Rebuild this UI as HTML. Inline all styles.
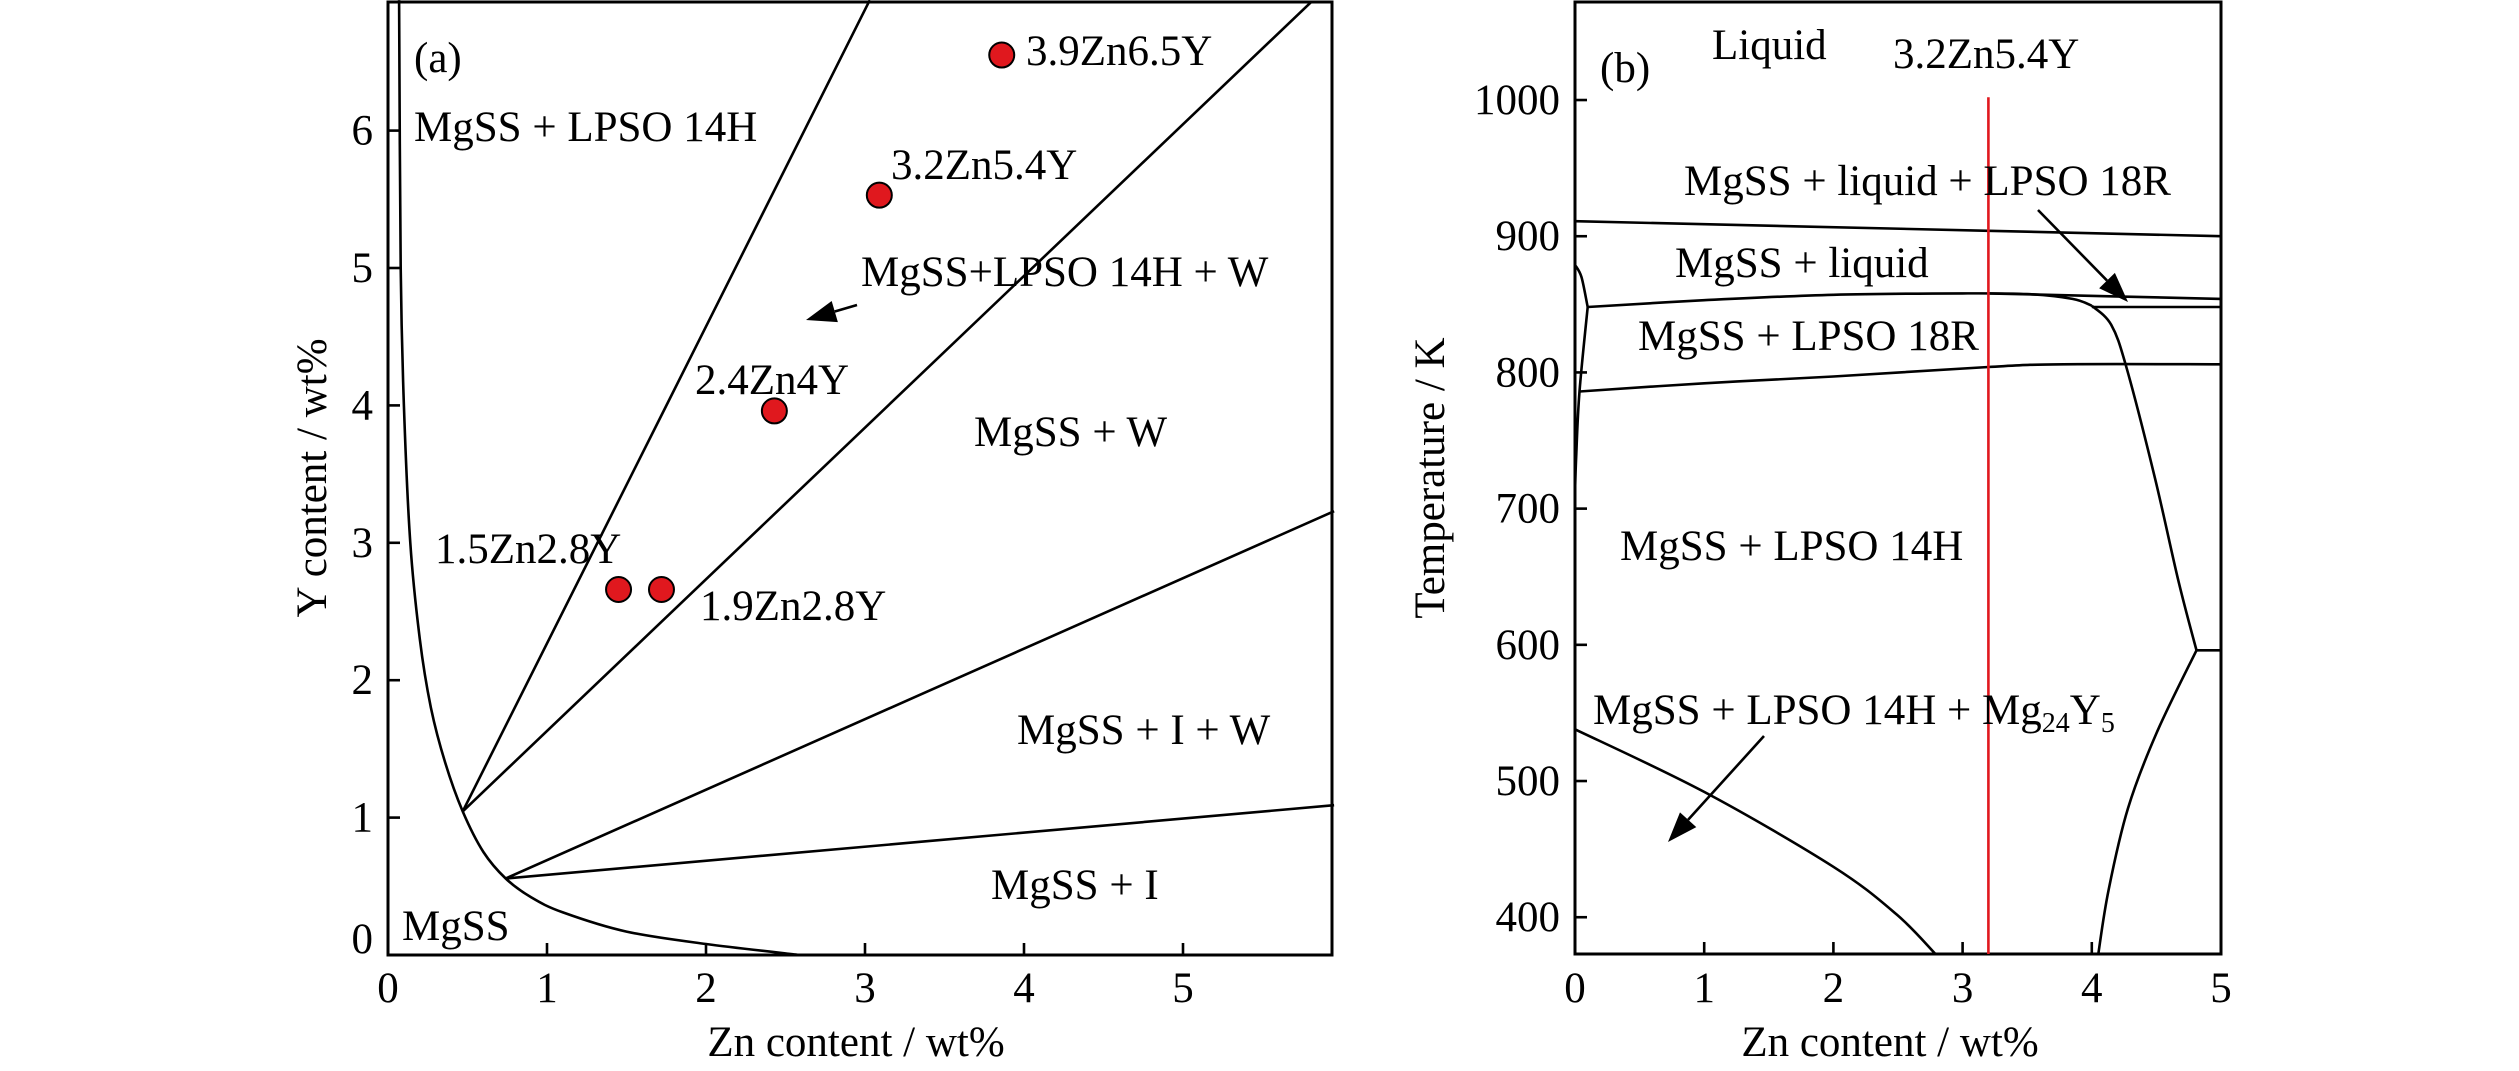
<!DOCTYPE html>
<html><head><meta charset="utf-8"><style>
html,body{margin:0;padding:0;background:#fff}
svg{display:block}
text{font-family:"Liberation Serif","Times New Roman",serif;fill:#000}
</style></head><body>
<svg id="chart" width="2519" height="1071" viewBox="0 0 2519 1071" xmlns="http://www.w3.org/2000/svg">
<g id="pa"></g>
<g id="pb"></g>
</svg>
<script>
// Panel (a) data
const aXTicks=[0,1,2,3,4,5];
const aYTicks=[0,1,2,3,4,5,6];
const aSolvusX=[0.07,0.08,0.1,0.14,0.2,0.27,0.36,0.47,0.6,0.74,0.9,1.1,1.5,2.0,2.59];
const aSolvusY=[6.95,5,4,3,2.3,1.8,1.4,1.045,0.75,0.557,0.42,0.31,0.17,0.08,0];
const aTieStartX=[0.47,0.47,0.74,0.74];
const aTieStartY=[1.045,1.045,0.557,0.557];
const aTieEndX=[3.03,5.81,5.95,5.95];
const aTieEndY=[6.95,6.94,3.23,1.09];
const aAlloyNames=["3.9Zn6.5Y","3.2Zn5.4Y","2.4Zn4Y","1.5Zn2.8Y","1.9Zn2.8Y"];
const aAlloyZn=[3.86,3.09,2.43,1.45,1.72];
const aAlloyY=[6.55,5.53,3.96,2.66,2.66];
// Panel (b) data
const bXTicks=[0,1,2,3,4,5];
const bYTicks=[400,500,600,700,800,900,1000];
const bLiqX=[0,3.2,5]; const bLiqT=[911,904,900];
const bSolX=[0.098,1,2,3,3.5,3.85,4.0]; const bSolT=[848,853,857,858,857.5,854,849];
const bUpX=[3.2,5]; const bUpT=[858,854];
const bH848X=[4.0,5]; const bH848T=[848,848];
const b800X=[0.035,1,2,3.2,3.78,5]; const b800T=[786,792,797,804,806,806];
const bLeftAX=[0,0.05,0.098]; const bLeftAT=[879,870,848];
const bLeftBX=[0.098,0.035,0.01,0]; const bLeftBT=[848,786,740,712];
const bRightX=[4.0,4.15,4.27,4.49,4.67,4.81]; const bRightT=[849,835,803,722,647,596];
const bH596X=[4.81,5]; const bH596T=[596,596];
const bLowRX=[4.81,4.5,4.28,4.13,4.05]; const bLowRT=[596,535,480,420,373];
const bLowLX=[0,1,2,2.49,2.79]; const bLowLT=[538,492,437,402,373];
const bAlloyZn=[3.2]; const bAlloyTop=[1002];

const NS="http://www.w3.org/2000/svg";
function mk(parent,tag,attrs,txt){const e=document.createElementNS(NS,tag);for(const k in attrs)e.setAttribute(k,attrs[k]);if(txt!==undefined)e.textContent=txt;parent.appendChild(e);return e;}
const F=43;
const ax=v=>388+v*159, ay=v=>955-v*137.4;
const bx=v=>1575+v*129.2, by=v=>954-(v-373)*1.362;
const pa=document.getElementById('pa'), pb=document.getElementById('pb');

function poly(g,xs,ys,fx,fy,name,col,w){
  const P=xs.map((x,i)=>[fx(x),fy(ys[i])]);
  let d='M'+P[0][0].toFixed(1)+','+P[0][1].toFixed(1);
  for(let i=0;i<P.length-1;i++){
    const p0=P[Math.max(0,i-1)],p1=P[i],p2=P[i+1],p3=P[Math.min(P.length-1,i+2)];
    const c1x=p1[0]+(p2[0]-p0[0])/6,c1y=p1[1]+(p2[1]-p0[1])/6;
    const c2x=p2[0]-(p3[0]-p1[0])/6,c2y=p2[1]-(p3[1]-p1[1])/6;
    d+=` C${c1x.toFixed(1)},${c1y.toFixed(1)} ${c2x.toFixed(1)},${c2y.toFixed(1)} ${p2[0].toFixed(1)},${p2[1].toFixed(1)}`;
  }
  const e=mk(g,'path',{d:d,fill:'none',stroke:col||'#000','stroke-width':w||2.6,'stroke-linejoin':'round'});
  
  
  return e;
}
function txt(g,x,y,s,name,extra){
  const e=mk(g,'text',Object.assign({x:x,y:y,'font-size':F},extra||{}),s);
  
  
  return e;
}
function arrow(g,x1,y1,x2,y2,name){
  const gg=mk(g,'g',{});
  
  
  const dx=x2-x1,dy=y2-y1,L=Math.hypot(dx,dy),ux=dx/L,uy=dy/L,h=30,wd=11;
  const bxp=x2-ux*h,byp=y2-uy*h;
  mk(gg,'line',{x1:x1,y1:y1,x2:bxp,y2:byp,stroke:'#000','stroke-width':2.6});
  mk(gg,'polygon',{points:`${x2},${y2} ${bxp-uy*wd},${byp+ux*wd} ${bxp+uy*wd},${byp-ux*wd}`,fill:'#000'});
}

// ---- Panel a ----
const fa=mk(pa,'rect',{x:388,y:2,width:944,height:953,fill:'none',stroke:'#000','stroke-width':3});

aXTicks.forEach(v=>{
  const l=mk(pa,'line',{x1:ax(v),y1:955,x2:ax(v),y2:943,stroke:'#000','stroke-width':2.6});
  
  txt(pa,ax(v),1002,String(v),'x-tick-label-a',{'text-anchor':'middle'});
});
aYTicks.forEach(v=>{
  const l=mk(pa,'line',{x1:388,y1:ay(v),x2:400,y2:ay(v),stroke:'#000','stroke-width':2.6});
  
  txt(pa,373,ay(v)+(v===0?-2:14),String(v),'y-tick-label-a',{'text-anchor':'end'});
});
txt(pa,856,1056,'Zn content / wt%','x-axis-title-a',{'text-anchor':'middle'});
txt(pa,0,0,'Y content / wt%','y-axis-title-a',{'text-anchor':'middle',transform:'translate(326,478) rotate(-90)'});
poly(pa,aSolvusX,aSolvusY,ax,ay,'solvus-curve');
aTieStartX.forEach((x,i)=>poly(pa,[x,aTieEndX[i]],[aTieStartY[i],aTieEndY[i]],ax,ay,'tie-line-'+(i+1)));
aAlloyZn.forEach((x,i)=>{
  const c=mk(pa,'circle',{cx:ax(x),cy:ay(aAlloyY[i]),r:12.5,fill:'#e0181e',stroke:'#000','stroke-width':2});
  
});
txt(pa,414,72,'(a)','panel-label-a');
txt(pa,414,141,'MgSS + LPSO 14H','region-mgss-lpso14h');
txt(pa,1026,65,aAlloyNames[0],'alloy-label');
txt(pa,891,179,aAlloyNames[1],'alloy-label');
txt(pa,695,394,aAlloyNames[2],'alloy-label');
txt(pa,435,563,aAlloyNames[3],'alloy-label');
txt(pa,700,620,aAlloyNames[4],'alloy-label');
txt(pa,861,286,'MgSS+LPSO 14H + W','region-mgss-lpso14h-w');
txt(pa,974,446,'MgSS + W','region-mgss-w');
txt(pa,1017,744,'MgSS + I + W','region-mgss-i-w');
txt(pa,991,899,'MgSS + I','region-mgss-i');
txt(pa,402,940,'MgSS','region-mgss');
arrow(pa,857,305,806,320,'arrow-a');

// ---- Panel b ----
const fb=mk(pb,'rect',{x:1575,y:2,width:646,height:952,fill:'none',stroke:'#000','stroke-width':3});

bXTicks.forEach(v=>{
  const l=mk(pb,'line',{x1:bx(v),y1:954,x2:bx(v),y2:942,stroke:'#000','stroke-width':2.6});
  
  txt(pb,bx(v),1002,String(v),'x-tick-label-b',{'text-anchor':'middle'});
});
bYTicks.forEach(v=>{
  const l=mk(pb,'line',{x1:1575,y1:by(v),x2:1587,y2:by(v),stroke:'#000','stroke-width':2.6});
  
  txt(pb,1560,by(v)+14,String(v),'y-tick-label-b',{'text-anchor':'end'});
});
txt(pb,1890,1056,'Zn content / wt%','x-axis-title-b',{'text-anchor':'middle'});
txt(pb,0,0,'Temperature / K','y-axis-title-b',{'text-anchor':'middle',transform:'translate(1444,478) rotate(-90)'});
poly(pb,bLiqX,bLiqT,bx,by,'liquidus-line');
poly(pb,bSolX,bSolT,bx,by,'solidus-line');
poly(pb,bUpX,bUpT,bx,by,'liquid-18r-line');
poly(pb,bH848X,bH848T,bx,by,'line-848');
poly(pb,b800X,b800T,bx,by,'line-800');
poly(pb,bLeftAX,bLeftAT,bx,by,'left-boundary-upper');
poly(pb,bLeftBX,bLeftBT,bx,by,'left-boundary-lower');
poly(pb,bRightX,bRightT,bx,by,'right-boundary');
poly(pb,bH596X,bH596T,bx,by,'line-596');
poly(pb,bLowRX,bLowRT,bx,by,'lower-right-boundary');
poly(pb,bLowLX,bLowLT,bx,by,'mg24y5-solvus');
bAlloyZn.forEach((x,i)=>poly(pb,[x,x],[bAlloyTop[i],373],bx,by,'alloy-composition-line','#e0181e',2.6));
txt(pb,1600,82,'(b)','panel-label-b');
txt(pb,1712,59,'Liquid','region-liquid');
txt(pb,1893,68,'3.2Zn5.4Y','alloy-line-label');
txt(pb,1684,195,'MgSS + liquid + LPSO 18R','region-mgss-liquid-18r');
txt(pb,1675,277,'MgSS + liquid','region-mgss-liquid');
txt(pb,1638,350,'MgSS + LPSO 18R','region-mgss-18r');
txt(pb,1620,560,'MgSS + LPSO 14H','region-mgss-14h');
const m=txt(pb,1593,724,'MgSS + LPSO 14H + Mg','region-mgss-14h-mg24y5');
mk(m,'tspan',{'font-size':28,dy:8},'24');
mk(m,'tspan',{'font-size':F,dy:-8},'Y');
mk(m,'tspan',{'font-size':28,dy:8},'5');
arrow(pb,2038,210,2128,302,'arrow-18r');
arrow(pb,1764,736,1668,842,'arrow-mg24y5');
</script>
</body></html>
